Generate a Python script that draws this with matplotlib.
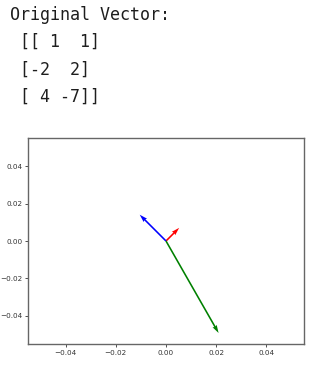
import numpy as np
import matplotlib
matplotlib.use("Agg")
import matplotlib.pyplot as plt

V = np.array([[1, 1], [-2, 2], [4, -7]])
origin = np.array([[0, 0, 0], [0, 0, 0]])
colors = ['r', 'b', 'g']

fig = plt.figure(figsize=(3.34, 3.77), dpi=100)

# printed output above the plot
lines = ["Original Vector:", " [[ 1  1]", " [-2  2]", " [ 4 -7]]"]
ys = [15, 42, 70, 97]
for txt, yp in zip(lines, ys):
    fig.text(10 / 334, 1 - yp / 377, txt, family='DejaVu Sans Mono', fontsize=12,
             va='center', ha='left', color='#1e1e1e')

ax = fig.add_axes([28 / 334, 1 - 344 / 377, 276 / 334, 206 / 377])
ax.quiver(*origin, V[:, 0], V[:, 1], color=colors, scale=21, width=0.0058)
ax.set_xlim(-0.055, 0.055)
ax.set_ylim(-0.055, 0.055)
ax.set_xticks([-0.04, -0.02, 0.0, 0.02, 0.04])
ax.set_yticks([-0.04, -0.02, 0.0, 0.02, 0.04])
ax.tick_params(labelsize=5.2, length=2, width=0.6, pad=2, colors='#333333')
for s in ax.spines.values():
    s.set_linewidth(1.0)
    s.set_color('#666666')

fig.savefig("out.png", dpi=100)
